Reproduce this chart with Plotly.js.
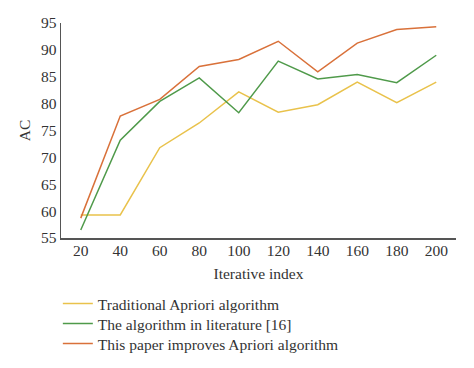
<!DOCTYPE html>
<html><head><meta charset="utf-8">
<script src="https://cdn.plot.ly/plotly-3.0.1.min.js"></script>
<style>html,body{margin:0;padding:0;background:#fff;}#chart{width:474px;height:368px;}</style>
</head><body><div id="chart"></div>
<script>
const iterations = [20, 40, 60, 80, 100, 120, 140, 160, 180, 200];
const traditional = [59.3, 59.3, 71.8, 76.4, 82.2, 78.4, 79.8, 84.0, 80.2, 84.0];
const literature = [56.5, 73.2, 80.4, 84.8, 78.3, 87.9, 84.6, 85.4, 83.9, 89.0];
const improved = [58.7, 77.7, 80.8, 86.9, 88.2, 91.6, 85.9, 91.25, 93.8, 94.3];
const seriesNames = ["Traditional Apriori algorithm", "The algorithm in literature [16]", "This paper improves Apriori algorithm"];
const yTicks = [55, 60, 65, 70, 75, 80, 85, 90, 95];

const font = "Liberation Serif, Times New Roman, serif";
const colors = ["#E9C24B", "#4F9A4A", "#D9713A"];
const legendIds = ["legend", "legend2", "legend3"];
const data = [traditional, literature, improved].map((v, i) => ({
  x: iterations, y: v, type: "scatter", mode: "lines", name: seriesNames[i],
  legend: legendIds[i],
  line: {color: colors[i], width: 1.5}
}));
const legendYs = [-0.307, -0.400, -0.493];
const layout = {
  width: 474, height: 368,
  margin: {l: 61, r: 18, t: 23, b: 130, autoexpand: false},
  paper_bgcolor: "#fff", plot_bgcolor: "#fff",
  font: {family: font, size: 15.5, color: "#333"},
  showlegend: true,
  xaxis: {range: [10, 210], tickvals: iterations, ticktext: iterations.map(String),
    showgrid: false, zeroline: false, showline: true, linecolor: "#555", linewidth: 1.5,
    ticks: "", ticklabelstandoff: -2, tickfont: {size: 15.5},
    title: {text: "Iterative index", font: {size: 15.5}, standoff: 10}},
  yaxis: {range: [55, 95], tickvals: yTicks, ticktext: yTicks.map(String),
    showgrid: false, zeroline: false, showline: true, linecolor: "#555", linewidth: 1.5,
    ticks: "", tickfont: {size: 15.5},
    title: {text: "AC", font: {size: 15.5}, standoff: 6}}
};
legendIds.forEach((id, i) => {
  layout[id] = {orientation: "v", x: -0.008, xanchor: "left", y: legendYs[i], yanchor: "middle",
    font: {family: font, size: 15.5, color: "#333"}, itemwidth: 30, bgcolor: "rgba(0,0,0,0)"};
});
Plotly.newPlot("chart", data, layout, {displayModeBar: false, staticPlot: true});
</script></body></html>
